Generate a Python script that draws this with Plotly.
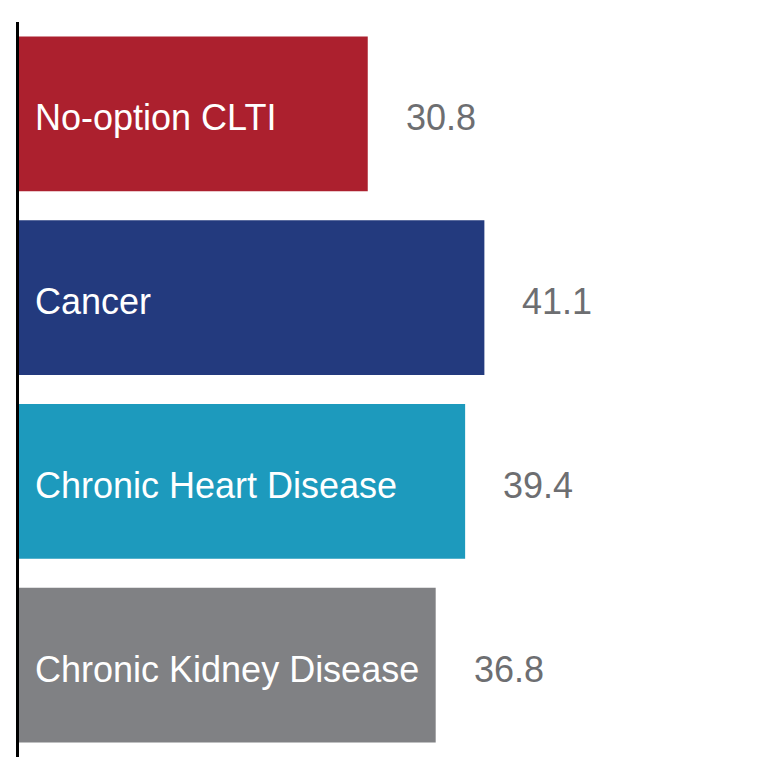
import plotly.graph_objects as go

# data
categories = ["No-option CLTI", "Cancer", "Chronic Heart Disease", "Chronic Kidney Disease"]
values = [30.8, 41.1, 39.4, 36.8]
value_labels = ["30.8", "41.1", "39.4", "36.8"]
bar_colors = ["#ac202e", "#233a7e", "#1d9abd", "#808184"]

FONT = "Liberation Sans, Arial, sans-serif"

fig = go.Figure()
fig.add_trace(go.Bar(
    x=values,
    y=categories,
    orientation="h",
    marker=dict(color=bar_colors, line=dict(width=0)),
    hoverinfo="skip",
))

# category names inside the bars, near the axis
for cat in categories:
    fig.add_annotation(x=0, y=cat, text=cat, showarrow=False,
                       xanchor="left", xshift=14, yshift=-4,
                       font=dict(family=FONT, size=36, color="white"))

# values to the right of each bar
for cat, v, lab in zip(categories, values, value_labels):
    fig.add_annotation(x=v, y=cat, text=lab, showarrow=False,
                       xanchor="left", xshift=36, yshift=-4,
                       font=dict(family=FONT, size=36, color="#6d6e71"))

# page body adds ~8px offset, so margins are trimmed accordingly
fig.update_layout(
    width=768, height=776,
    margin=dict(l=11, r=21, t=14, b=27),
    paper_bgcolor="white", plot_bgcolor="white",
    showlegend=False,
    bargap=0.158,
    xaxis=dict(range=[0, 65], visible=False, fixedrange=True),
    yaxis=dict(autorange="reversed", showticklabels=False, ticks="",
               showgrid=False, zeroline=False,
               showline=True, linecolor="black", linewidth=2.5),
)

fig.write_html("out.html")
